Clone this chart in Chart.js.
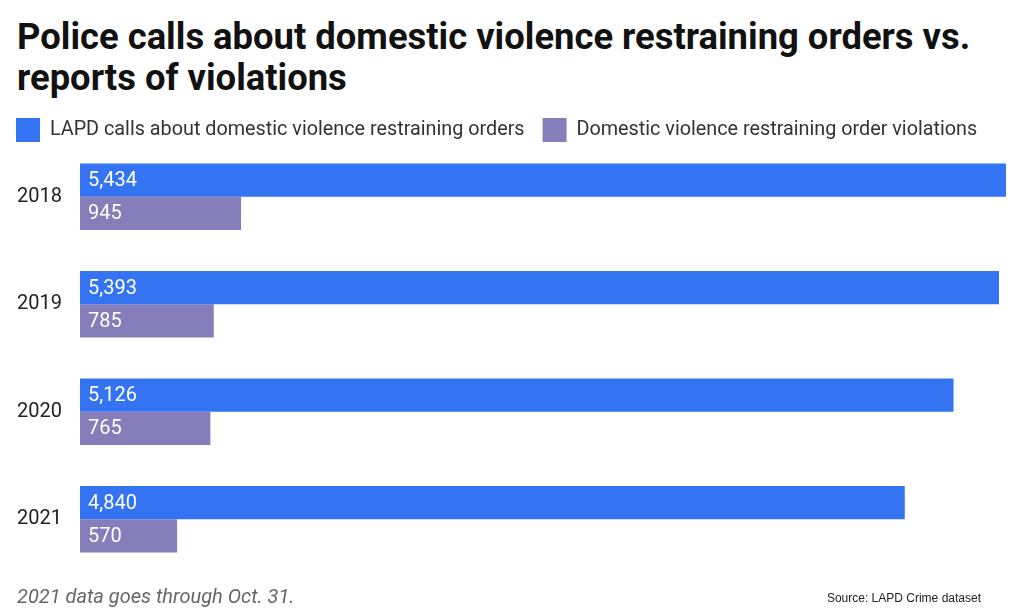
<!DOCTYPE html>
<html>
<head>
<meta charset="utf-8">
<script src="https://cdn.jsdelivr.net/npm/chart.js@4"></script>
<style>
  html, body { margin: 0; padding: 0; background: #fff; }
  body { width: 1024px; height: 614px; position: relative; overflow: hidden; font-family: Roboto, sans-serif; }
  #title { position: absolute; left: 17px; top: 16px; width: 1010px; font: 700 36.4px/41px Roboto, sans-serif; color: #111; }
  #wrap { position: absolute; left: 0; top: 0; width: 1024px; height: 614px; }
  #note { position: absolute; left: 17px; top: 586px; font: italic 20px/20px Roboto, sans-serif; color: #666; }
  #source { position: absolute; right: 43px; top: 591px; font: 12px/14px "Liberation Sans", Arial, sans-serif; color: #222; }
</style>
</head>
<body>
<div id="title">Police calls about domestic violence restraining orders vs.<br>reports of violations</div>
<div id="wrap"><canvas id="myChart"></canvas></div>
<div id="note">2021 data goes through Oct. 31.</div>
<div id="source">Source: LAPD Crime dataset</div>
<script>
// Data
const years = ['2018', '2019', '2020', '2021'];
const callsLabel = 'LAPD calls about domestic violence restraining orders';
const violationsLabel = 'Domestic violence restraining order violations';
const calls = [5434, 5393, 5126, 4840];
const violations = [945, 785, 765, 570];

// keep the legend on one row and pull it closer to the bars
const legendMargin = {
    id: 'legendMargin',
    beforeInit(chart) {
        const fitValue = chart.legend.fit;
        chart.legend.fit = function fit() {
            this.maxWidth += 60;
            fitValue.bind(chart.legend)();
            this.height -= 9;
        };
    }
};

// value labels inside the bars
const barValues = {
    id: 'barValues',
    afterDatasetsDraw(chart) {
        const ctx = chart.ctx;
        ctx.save();
        ctx.font = '20px Roboto, sans-serif';
        ctx.fillStyle = '#fff';
        ctx.textAlign = 'left';
        ctx.textBaseline = 'middle';
        chart.data.datasets.forEach((ds, i) => {
            chart.getDatasetMeta(i).data.forEach((bar, j) => {
                ctx.fillText(ds.data[j].toLocaleString('en-US'), bar.base + 8, bar.y + 1);
            });
        });
        ctx.restore();
    }
};

const data = {
    labels: years,
    datasets: [{
        label: callsLabel,
        data: calls,
        backgroundColor: '#3474f3'
    }, {
        label: violationsLabel,
        data: violations,
        backgroundColor: '#857eba'
    }]
};

const config = {
    type: 'bar',
    data: data,
    options: {
        indexAxis: 'y',
        responsive: true,
        maintainAspectRatio: false,
        animation: false,
        categoryPercentage: 0.619,
        barPercentage: 1,
        layout: {
            padding: { left: -2, right: 18, top: 100, bottom: 41 }
        },
        scales: {
            x: {
                display: false,
                min: 0,
                max: 5434
            },
            y: {
                grid: { display: false },
                border: { display: false },
                afterFit: (scale) => { scale.width = 82; },
                ticks: {
                    padding: 10,
                    color: '#222',
                    font: { family: 'Roboto', size: 20 }
                }
            }
        },
        plugins: {
            legend: {
                align: 'start',
                labels: {
                    boxWidth: 24,
                    boxHeight: 24,
                    padding: 18,
                    color: '#333',
                    font: { family: 'Roboto', size: 19.8 }
                }
            },
            tooltip: { enabled: false }
        }
    },
    plugins: [legendMargin, barValues]
};

const graph = new Chart(document.getElementById('myChart'), config);
</script>
</body>
</html>
